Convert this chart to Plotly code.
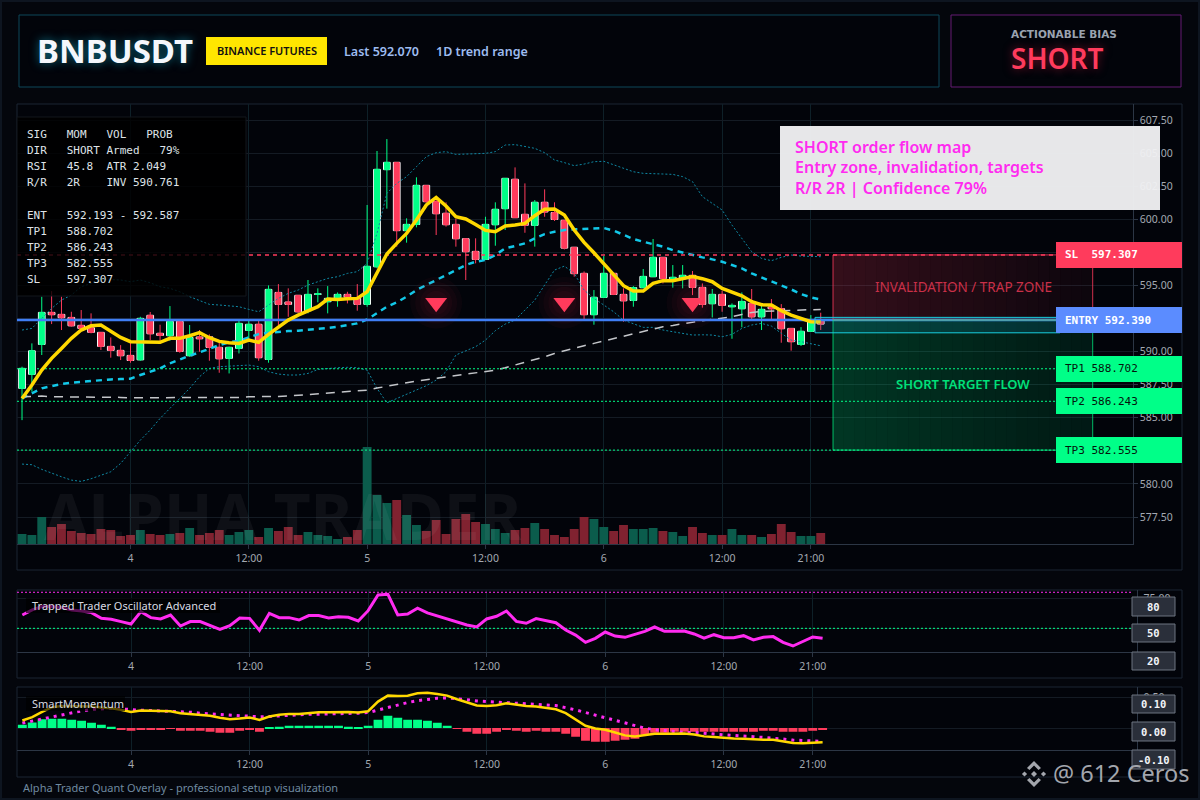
import plotly.graph_objects as go

# hourly candles, index 0 = day 3 13:00, last = day 6 22:00
opens = [587.22, 588.28, 590.54, 592.96, 592.81, 592.58, 591.98, 591.80, 591.45, 590.39,
         590.09, 589.71, 589.38, 592.74, 591.38, 591.20, 592.28, 589.69, 591.10, 591.12,
         590.32, 589.49, 590.24, 591.60, 592.06, 589.41, 594.47, 593.74, 594.25, 593.09,
         594.32, 593.77, 593.97, 594.32, 594.02, 593.57, 596.41, 603.75, 604.30, 599.14,
         599.61, 602.56, 601.33, 600.45, 599.61, 598.53, 597.57, 596.97, 599.59, 600.80,
         603.02, 600.37, 599.54, 601.28, 600.50, 599.92, 597.88, 595.91, 592.79, 594.10,
         595.91, 594.32, 593.87, 594.83, 595.66, 597.12, 595.51, 595.51, 595.76, 594.85,
         593.62, 594.32, 593.39, 593.24, 593.64, 592.63, 593.37, 593.24, 591.75, 590.54,
         591.53, 592.36]
highs = [588.86, 590.62, 594.15, 594.57, 594.15, 593.01, 593.14, 592.89, 591.45, 591.07,
         590.49, 590.82, 592.63, 592.99, 592.03, 593.44, 592.38, 592.01, 591.63, 591.30,
         590.67, 590.37, 592.38, 592.38, 592.38, 595.00, 595.10, 594.78, 594.27, 595.41,
         594.78, 594.95, 594.47, 594.52, 595.10, 601.08, 605.16, 606.06, 604.30, 600.07,
         603.17, 602.56, 601.71, 601.28, 600.04, 598.53, 598.56, 600.19, 601.28, 603.09,
         603.92, 602.71, 601.45, 602.26, 601.28, 599.92, 597.88, 596.06, 594.65, 597.22,
         595.91, 594.78, 594.95, 596.24, 598.51, 597.12, 596.54, 596.54, 596.09, 595.15,
         594.73, 594.60, 593.64, 594.47, 594.73, 593.52, 593.97, 593.59, 591.75, 591.85,
         592.76, 592.94]
lows = [584.82, 586.97, 589.74, 592.08, 591.63, 591.88, 591.63, 591.38, 590.12, 589.54,
        589.36, 589.16, 589.31, 590.87, 590.75, 590.82, 589.91, 589.61, 589.99, 589.31,
        588.40, 588.35, 589.86, 590.87, 589.31, 589.16, 591.88, 592.63, 592.89, 592.89,
        593.72, 592.89, 593.39, 593.64, 593.09, 593.39, 596.29, 600.80, 597.93, 598.23,
        599.39, 601.25, 598.81, 599.44, 597.93, 595.41, 596.67, 596.92, 598.00, 599.19,
        600.12, 598.98, 597.93, 600.19, 599.87, 597.72, 595.66, 592.46, 592.03, 594.10,
        594.27, 592.26, 593.39, 594.83, 595.66, 595.15, 594.83, 594.78, 594.27, 593.32,
        592.58, 593.01, 590.97, 591.83, 592.46, 591.63, 592.46, 590.67, 590.07, 590.42,
        591.53, 591.63]
closes = [588.73, 590.06, 592.96, 592.79, 592.56, 591.95, 591.75, 591.45, 590.39, 590.09,
          589.69, 589.33, 592.51, 591.35, 591.22, 592.28, 590.01, 591.07, 590.97, 590.32,
          589.46, 590.32, 592.13, 592.06, 589.54, 594.70, 593.57, 593.57, 593.01, 594.32,
          594.37, 594.02, 594.32, 594.12, 593.57, 596.44, 603.77, 604.30, 599.14, 599.61,
          602.56, 601.33, 600.42, 599.59, 598.53, 597.55, 596.97, 599.61, 600.75, 603.09,
          600.12, 599.54, 601.28, 600.55, 599.99, 597.82, 595.89, 592.79, 594.10, 595.91,
          594.32, 593.84, 594.83, 595.68, 597.12, 595.51, 595.61, 595.76, 594.85, 593.57,
          594.32, 593.49, 593.49, 593.79, 592.63, 593.19, 593.24, 591.73, 590.75, 591.53,
          592.38, 592.08]
volumes = [10, 9, 27, 17, 20, 13, 11, 10, 15, 14, 8, 9, 14, 10, 9, 10, 11, 16, 9, 11,
           14, 9, 12, 14, 7, 16, 13, 17, 9, 12, 9, 8, 5, 7, 14, 97, 49, 41, 44, 29,
           19, 13, 24, 10, 25, 30, 22, 20, 15, 11, 14, 16, 21, 15, 9, 7, 15, 27, 25, 17,
           13, 19, 15, 15, 16, 13, 12, 8, 17, 11, 9, 9, 15, 9, 9, 7, 10, 20, 12, 8,
           8, 11]
ema_line = [586.46, 587.47, 588.60, 589.49, 590.24, 591.00, 591.63, 591.95, 592.01, 591.50,
            591.07, 590.75, 590.75, 590.72, 590.70, 591.00, 591.00, 591.20, 591.43, 591.05,
            590.77, 590.67, 590.62, 590.87, 590.70, 591.30, 591.88, 592.38, 592.76, 593.09,
            593.39, 593.97, 593.94, 593.99, 594.02, 594.52, 595.91, 597.37, 598.18, 598.93,
            599.94, 601.08, 601.65, 601.00, 600.19, 600.02, 599.61, 599.16, 599.06, 599.49,
            599.56, 599.69, 600.27, 600.75, 600.77, 600.32, 599.19, 598.25, 597.47, 596.67,
            595.81, 594.98, 594.57, 594.57, 595.15, 595.36, 595.36, 595.53, 595.68, 595.51,
            595.28, 594.78, 594.47, 594.22, 593.77, 593.54, 593.52, 593.09, 592.76, 592.51,
            592.26, 592.23]
bb_mid = [586.46, 586.84, 587.22, 587.39, 587.55, 587.65, 587.72, 587.80, 587.85, 587.90,
          587.92, 587.95, 588.23, 588.48, 588.73, 589.11, 589.41, 589.69, 589.94, 590.24,
          590.49, 590.70, 590.82, 591.07, 591.32, 591.43, 591.50, 591.55, 591.58, 591.63,
          591.70, 591.78, 591.88, 592.01, 592.13, 592.43, 592.89, 593.39, 593.72, 594.15,
          594.65, 595.03, 595.41, 595.78, 596.11, 596.54, 596.79, 596.92, 597.30, 597.80,
          597.98, 598.18, 598.56, 598.88, 599.06, 599.19, 599.24, 599.26, 599.29, 599.34,
          599.14, 598.81, 598.51, 598.30, 598.13, 597.93, 597.67, 597.47, 597.30, 597.12,
          596.97, 596.79, 596.54, 596.29, 595.91, 595.61, 595.36, 595.03, 594.70, 594.35,
          594.10, 593.94]
bb_upper = [591.63, 591.75, 592.51, 593.26, 593.89, 594.27, 594.90, 595.15, 595.48, 595.46,
            595.41, 595.28, 595.41, 595.20, 594.90, 594.78, 594.52, 594.15, 593.84, 593.57,
            593.52, 593.44, 593.39, 593.19, 593.01, 593.52, 594.02, 594.40, 594.65, 595.03,
            595.28, 595.53, 595.66, 595.91, 596.04, 596.67, 598.93, 601.96, 602.71, 603.22,
            603.97, 604.73, 605.03, 605.11, 604.90, 604.93, 604.93, 604.98, 605.11, 605.61,
            605.64, 605.48, 605.36, 605.03, 604.48, 604.28, 604.05, 604.17, 604.35, 604.38,
            604.10, 603.85, 603.59, 603.47, 603.47, 603.42, 603.39, 603.22, 602.84, 601.71,
            601.20, 600.70, 599.56, 598.56, 597.55, 597.04, 596.87, 597.12, 597.30, 597.22,
            597.17, 597.17]
bb_lower = [581.50, 581.45, 581.10, 580.79, 580.54, 580.29, 580.19, 580.39, 580.67, 580.92,
            581.55, 582.43, 583.31, 584.07, 584.95, 585.71, 586.46, 587.22, 588.10, 588.73,
            588.86, 588.91, 588.96, 588.98, 588.86, 588.48, 588.30, 588.23, 588.23, 588.35,
            588.65, 588.73, 588.78, 588.81, 588.78, 588.60, 587.22, 586.13, 586.46, 586.79,
            587.09, 587.42, 587.85, 588.48, 589.74, 590.07, 590.37, 590.87, 591.58, 592.08,
            592.38, 593.14, 593.89, 595.03, 596.16, 596.46, 595.91, 594.65, 594.02, 593.52,
            593.01, 592.38, 592.13, 591.83, 591.83, 591.63, 591.50, 591.38, 591.25, 591.27,
            591.25, 591.12, 591.30, 591.75, 592.01, 592.13, 591.93, 591.38, 590.87, 590.75,
            590.57, 590.44]
anchor_line = [586.59, 586.64, 586.64, 586.59, 586.59, 586.59, 586.54, 586.54, 586.54, 586.54,
               586.54, 586.51, 586.51, 586.51, 586.51, 586.51, 586.51, 586.51, 586.51, 586.54,
               586.54, 586.54, 586.54, 586.59, 586.59, 586.56, 586.61, 586.64, 586.69, 586.74,
               586.79, 586.84, 586.92, 586.97, 587.04, 587.09, 587.24, 587.39, 587.55, 587.65,
               587.77, 587.87, 587.97, 588.10, 588.18, 588.28, 588.35, 588.48, 588.60, 588.78,
               588.98, 589.21, 589.41, 589.61, 589.86, 590.07, 590.27, 590.44, 590.62, 590.80,
               590.97, 591.17, 591.38, 591.55, 591.73, 591.88, 591.98, 592.11, 592.23, 592.33,
               592.43, 592.53, 592.63, 592.81, 592.96, 593.04, 593.06, 593.09, 593.11, 593.14,
               593.16, 593.19]
oscillator = [61.1, 65.3, 68.1, 68.1, 67.2, 65.3, 64.4, 63.1, 58.3, 57.5,
              55.6, 53.6, 63.9, 58.9, 57.8, 61.1, 51.9, 55.6, 55.6, 52.2,
              49.2, 52.2, 58.6, 58.3, 48.3, 62.5, 58.9, 58.9, 56.9, 60.6,
              60.6, 58.6, 59.7, 59.2, 56.1, 64.7, 77.8, 78.3, 61.1, 61.9,
              66.7, 62.8, 60.3, 58.3, 55.6, 52.8, 51.1, 57.8, 60.0, 64.4,
              55.8, 54.2, 58.1, 56.1, 54.7, 48.6, 44.4, 38.3, 41.7, 46.9,
              43.6, 42.5, 45.0, 47.5, 51.1, 47.5, 47.5, 47.8, 45.3, 41.9,
              44.7, 42.2, 42.2, 43.9, 40.3, 42.5, 43.1, 38.3, 35.3, 38.9,
              42.8, 41.7]
momentum_hist = [0.054, 0.091, 0.145, 0.151, 0.151, 0.134, 0.118, 0.086, 0.054, 0.022,
                 -0.027, -0.043, -0.027, -0.027, -0.027, -0.011, -0.043, -0.043, -0.043, -0.059,
                 -0.075, -0.075, -0.043, -0.027, -0.059, 0.005, 0.022, 0.038, 0.038, 0.038,
                 0.038, 0.038, 0.038, 0.022, 0.005, 0.038, 0.134, 0.199, 0.167, 0.134,
                 0.134, 0.118, 0.086, 0.038, -0.011, -0.059, -0.091, -0.091, -0.059, -0.027,
                 -0.043, -0.059, -0.043, -0.059, -0.059, -0.091, -0.140, -0.204, -0.220, -0.220,
                 -0.204, -0.188, -0.172, -0.108, -0.075, -0.075, -0.059, -0.059, -0.059, -0.059,
                 -0.059, -0.059, -0.059, -0.059, -0.059, -0.043, -0.043, -0.059, -0.059, -0.059,
                 -0.043, -0.027]
momentum_fast = [0.124, 0.177, 0.263, 0.339, 0.360, 0.360, 0.355, 0.349, 0.333, 0.323,
                 0.296, 0.263, 0.285, 0.285, 0.274, 0.274, 0.242, 0.231, 0.220, 0.199,
                 0.167, 0.145, 0.156, 0.172, 0.134, 0.188, 0.215, 0.231, 0.231, 0.247,
                 0.258, 0.258, 0.263, 0.263, 0.253, 0.274, 0.430, 0.527, 0.522, 0.527,
                 0.565, 0.575, 0.554, 0.527, 0.468, 0.414, 0.366, 0.360, 0.371, 0.403,
                 0.376, 0.360, 0.349, 0.333, 0.306, 0.242, 0.145, 0.038, -0.005, -0.027,
                 -0.070, -0.118, -0.134, -0.113, -0.091, -0.091, -0.091, -0.086, -0.102, -0.134,
                 -0.145, -0.161, -0.167, -0.172, -0.183, -0.188, -0.188, -0.210, -0.242, -0.247,
                 -0.242, -0.231]
momentum_slow = [0.081, 0.113, 0.145, 0.188, 0.220, 0.253, 0.280, 0.301, 0.317, 0.323,
                 0.312, 0.296, 0.290, 0.285, 0.280, 0.280, 0.269, 0.258, 0.242, 0.231,
                 0.220, 0.210, 0.199, 0.194, 0.183, 0.188, 0.199, 0.210, 0.215, 0.226,
                 0.226, 0.231, 0.231, 0.231, 0.242, 0.253, 0.296, 0.339, 0.376, 0.414,
                 0.446, 0.468, 0.484, 0.489, 0.478, 0.462, 0.441, 0.430, 0.419, 0.414,
                 0.403, 0.392, 0.387, 0.376, 0.366, 0.333, 0.296, 0.253, 0.210, 0.172,
                 0.124, 0.081, 0.038, 0.0, -0.027, -0.043, -0.059, -0.070, -0.070, -0.086,
                 -0.097, -0.108, -0.118, -0.134, -0.140, -0.151, -0.161, -0.177, -0.194, -0.204,
                 -0.210, -0.215]

tick_idx = [11, 23, 35, 47, 59, 71, 80]
tick_txt = ['4', '12:00', '5', '12:00', '6', '12:00', '21:00']
price_ticks = [577.5, 580, 582.5, 585, 587.5, 590, 592.5, 595, 597.5, 600, 602.5, 605, 607.5]

sl_price = 597.307
entry_price = 592.390
entry_zone = [592.587, 591.42]
tp_prices = [588.702, 586.243, 582.555]
signal_idx = [42, 55, 68]
signal_price = [593.69, 593.69, 593.69]

table_lines = ['SIG   MOM   VOL   PROB', 'DIR   SHORT Armed   79%', 'RSI   45.8  ATR 2.049',
               'R/R   2R    INV 590.761', '', 'ENT   592.193 - 592.587', 'TP1   588.702',
               'TP2   586.243', 'TP3   582.555', 'SL    597.307']
info_lines = ['SHORT order flow map', 'Entry zone, invalidation, targets', 'R/R 2R | Confidence 79%']

GREEN = '#00ff88'
RED = '#ff3b5c'
BG = '#04060c'
PANEL = '#02040a'
GRID = '#141b24'
VGRID = '#0e2028'
AXIS = '#2c3645'
TICK = '#a4a9b2'
SANS = 'Noto Sans'
MONO = 'DejaVu Sans Mono'

idx = list(range(len(closes)))
up = [c >= o for o, c in zip(opens, closes)]


def X(px):
    return px / 1200


def Y(py):
    return 1 - py / 800


fig = go.Figure()

# volume sits on the base axis so the price traces draw over it
fig.add_trace(go.Bar(x=idx, y=volumes, yaxis='y4', width=0.9,
                     marker=dict(color=['#0b5c4c' if u else '#802230' for u in up], line_width=0)))

for vals, color, width, dash in [
    (bb_upper, '#0f88a3', 1, '2px,2px'),
    (bb_lower, '#0f88a3', 1, '2px,2px'),
    (bb_mid, '#12c8e8', 2.5, '6px,5px'),
    (anchor_line, '#c4c6ca', 1.5, '9px,7px'),
]:
    fig.add_trace(go.Scatter(x=idx, y=vals, mode='lines', line=dict(color=color, width=width, dash=dash)))

# level lines run up to the price tags
span = [-0.51, 104.9]
fig.add_trace(go.Scatter(x=span, y=[sl_price] * 2, mode='lines', line=dict(color=RED, width=1.5, dash='4px,4px')))
for tp in tp_prices:
    fig.add_trace(go.Scatter(x=span, y=[tp] * 2, mode='lines', line=dict(color=GREEN, width=1, dash='2px,2px')))

# wicks come from the candlestick, bodies get the white outline from a bar on top
fig.add_trace(go.Candlestick(x=idx, open=opens, high=highs, low=lows, close=closes, whiskerwidth=0,
                             increasing=dict(line=dict(color=GREEN, width=1), fillcolor=GREEN),
                             decreasing=dict(line=dict(color=RED, width=1), fillcolor=RED)))
fig.add_trace(go.Bar(x=idx, y=[abs(c - o) for o, c in zip(opens, closes)], base=[min(o, c) for o, c in zip(opens, closes)],
                     width=0.68, marker=dict(color=[GREEN if u else RED for u in up], line=dict(color='#ffffff', width=1))))

fig.add_trace(go.Scatter(x=span, y=[entry_price] * 2, mode='lines', line=dict(color='#3f7ef5', width=2.5)))
fig.add_trace(go.Scatter(x=idx, y=ema_line, mode='lines', line=dict(color='#ffd800', width=3.5)))

# sell markers, the halo is a few stacked faint circles
for halo in [52, 42, 32, 24]:
    fig.add_trace(go.Scatter(x=signal_idx, y=signal_price, mode='markers',
                             marker=dict(symbol='circle', size=halo, color='rgba(255,59,92,0.035)', line_width=0)))
fig.add_trace(go.Scatter(x=signal_idx, y=signal_price, mode='markers',
                         marker=dict(symbol='triangle-down', size=19, color=RED, line_width=0)))

# oscillator panel
x2_span = [-0.54, 112.3]
fig.add_trace(go.Scatter(x=x2_span, y=[80, 80], xaxis='x2', yaxis='y2', mode='lines',
                         line=dict(color='#ff2bf0', width=1, dash='2px,2px')))
fig.add_trace(go.Scatter(x=x2_span, y=[50, 50], xaxis='x2', yaxis='y2', mode='lines',
                         line=dict(color=GREEN, width=1, dash='2px,2px')))
fig.add_trace(go.Scatter(x=idx, y=oscillator, xaxis='x2', yaxis='y2', mode='lines',
                         line=dict(color='#ff2bf0', width=3)))

# momentum panel
fig.add_trace(go.Bar(x=idx, y=momentum_hist, xaxis='x3', yaxis='y3', width=0.9,
                     marker=dict(color=[GREEN if v >= 0 else RED for v in momentum_hist], line_width=0)))
fig.add_trace(go.Scatter(x=idx, y=momentum_slow, xaxis='x3', yaxis='y3', mode='lines',
                         line=dict(color='#ff2bf0', width=3, dash='3px,5px')))
fig.add_trace(go.Scatter(x=idx, y=momentum_fast, xaxis='x3', yaxis='y3', mode='lines',
                         line=dict(color='#ffd800', width=2.5)))

shapes = []
notes = []


def frame(x0, y0, x1, y1, line=None, fill=None, width=1, layer='above'):
    shapes.append(dict(type='rect', xref='paper', yref='paper', x0=X(x0), x1=X(x1), y0=Y(y0), y1=Y(y1),
                       line=dict(color=line, width=width) if line else dict(width=0),
                       fillcolor=fill or 'rgba(0,0,0,0)', layer=layer))


def note(x, y, text, size, color, family=SANS, anchor='left', **kw):
    # annotations carry about 2px of padding on the left
    if anchor == 'left':
        x = x - 2
    notes.append(dict(xref='paper', yref='paper', x=X(x), y=Y(y), text=text, showarrow=False, xanchor=anchor,
                      yanchor='middle', font=dict(size=size, color=color, family=family, **kw.pop('font', {})), **kw))


def poly(points, fill):
    path = 'M ' + ' L '.join(f'{X(a):.5f} {Y(b):.5f}' for a, b in points) + ' Z'
    shapes.append(dict(type='path', xref='paper', yref='paper', path=path, fillcolor=fill, line_width=0, layer='above'))


# panels behind the plots
frame(1, 1, 1199, 799, line='#0e1520', width=2, layer='below')
frame(17, 104, 1182, 570, line='#1a2433', fill=PANEL, layer='below')
frame(17, 590, 1182, 678, line='#1a2433', fill=PANEL, layer='below')
frame(17, 687, 1182, 777, line='#1a2433', fill=PANEL, layer='below')
frame(19, 15, 939, 87, line='#0d4658', fill=PANEL, layer='below')
frame(951, 15, 1181, 87, line='#651a72', fill=PANEL, layer='below')

# gradient zones, cut in slices that fade to the right
zone_left, zone_right = 833, 1092.7
slices = 24
for k in range(slices):
    t = k / slices
    a = zone_left + (zone_right - zone_left) * t
    b = zone_left + (zone_right - zone_left) * (t + 1 / slices)
    shapes.append(dict(type='rect', xref='paper', yref='y', x0=X(a), x1=X(b), y0=entry_price, y1=sl_price,
                       line_width=0, fillcolor=f'rgba(255,59,92,{0.20 - 0.16 * t:.3f})', layer='above'))
    shapes.append(dict(type='rect', xref='paper', yref='y', x0=X(a), x1=X(b), y0=tp_prices[2], y1=entry_price,
                       line_width=0, fillcolor=f'rgba(0,255,136,{0.20 - 0.12 * t:.3f})', layer='above'))
shapes.append(dict(type='rect', xref='paper', yref='y', x0=X(zone_left), x1=X(zone_right), y0=entry_price, y1=sl_price,
                   line=dict(color='rgba(255,59,92,0.8)', width=1), layer='above'))
shapes.append(dict(type='rect', xref='paper', yref='y', x0=X(zone_left), x1=X(zone_right), y0=tp_prices[2], y1=entry_price,
                   line=dict(color='rgba(0,255,136,0.7)', width=1), layer='above'))
shapes.append(dict(type='rect', xref='paper', yref='y', x0=X(815), x1=X(1060), y0=entry_zone[1], y1=entry_zone[0],
                   line=dict(color='#19cfe0', width=1), fillcolor='rgba(20,170,220,0.15)', layer='above'))
note(963, 287, 'INVALIDATION / TRAP ZONE', 13.5, '#c93048', anchor='center')
note(963, 384, 'SHORT TARGET FLOW', 13, '#00e07a', anchor='center', font=dict(weight=600))

# signal table and info box
frame(17, 117, 246, 296, line='#12161d', fill='rgba(0,0,0,0.82)')
for k, line in enumerate(table_lines):
    if line:
        note(27, 134 + k * 16.2, line.replace(' ', '\u00a0'), 11, '#dfe3e8', family=MONO)
frame(780, 126, 1160, 210, fill='rgba(240,240,243,0.96)')
for k, line in enumerate(info_lines):
    note(795, 147 + k * 20.5, line, 16, '#ff2bf0', font=dict(weight=600))

# price tags
for y0, y1, fill, label, color, weight in [
    (242, 268, RED, f'SL  {sl_price:.3f}', '#ffffff', 'bold'),
    (307, 333, '#5b8cff', f'ENTRY {entry_price:.3f}', '#ffffff', 'bold'),
    (356, 382, GREEN, f'TP1 {tp_prices[0]:.3f}', '#04140c', 'normal'),
    (388, 414, GREEN, f'TP2 {tp_prices[1]:.3f}', '#04140c', 'normal'),
    (437, 463, GREEN, f'TP3 {tp_prices[2]:.3f}', '#04140c', 'normal'),
]:
    frame(1056, y0, 1182, y1, fill=fill)
    note(1065, (y0 + y1) / 2, label.replace(' ', '\u00a0'), 11, color, family=MONO, font=dict(weight=weight))

# small value boxes beside the two lower panels
for y0, y1, label in [(597, 616, '80'), (624, 642, '50'), (652, 670, '20'),
                      (695, 713, '0.10'), (722, 741, '0.00'), (750, 769, '-0.10')]:
    frame(1132, y0, 1175, y1, line='#6d7480', fill='#2a2f3a')
    note(1153.5, (y0 + y1) / 2, label, 10.5, '#f2f4f8', family=MONO, anchor='center', font=dict(weight='bold'))

# header
note(37, 51, 'BNBUSDT', 33, '#f4f7fc', font=dict(weight='bold', shadow='0 0 10px #0b6a80'))
frame(206, 37, 327, 65, fill='#ffe600')
note(266.5, 51, 'BINANCE FUTURES', 11, '#111111', anchor='center', font=dict(weight=600))
note(344, 51.5, 'Last 592.070', 12.5, '#9dbcf0', font=dict(weight=600))
note(435.5, 51.5, '1D trend range', 12.5, '#9dbcf0', font=dict(weight=600))
note(1011, 33.5, 'ACTIONABLE BIAS', 10.5, '#9aa3b0', family='DejaVu Sans', font=dict(weight='bold'))
note(1011, 58, 'SHORT', 28, RED, font=dict(weight=600, shadow='0 0 10px #7a1028'))

# panel captions, footer and the mark in the corner
frame(26, 598, 220, 613, fill='rgba(0,0,0,0.65)')
note(32, 605, 'Trapped Trader Oscillator Advanced', 11, '#d9dbe2')
frame(26, 696, 125, 711, fill='rgba(0,0,0,0.65)')
note(32, 703, 'SmartMomentum', 11, '#d9dbe2')
note(23, 787, 'Alpha Trader Quant Overlay - professional setup visualization', 11, '#6f8aa0')
note(44, 515, 'ALPHA TRADER', 64, 'rgba(255,255,255,0.05)', font=dict(weight='bold'))
note(1053, 773, '@ 612 Ceros', 23.5, '#a3a6ad')
for cx, cy, r in [(1034, 774, 3), (1024.5, 774, 2.6), (1043.5, 774, 2.6)]:
    poly([(cx - r, cy), (cx, cy - r), (cx + r, cy), (cx, cy + r)], '#a3a6ad')
poly([(1034, 761), (1041, 768), (1038.5, 770), (1034, 765.5), (1029.5, 770), (1027, 768)], '#a3a6ad')
poly([(1034, 787), (1041, 780), (1038.5, 778), (1034, 782.5), (1029.5, 778), (1027, 780)], '#a3a6ad')

x_common = dict(tickmode='array', tickvals=tick_idx, ticktext=tick_txt, showgrid=True, gridcolor=VGRID, gridwidth=1,
                zeroline=False, showline=True, linecolor=AXIS, ticks='outside', ticklen=4, tickcolor=AXIS,
                tickfont=dict(family=SANS, size=10.5, color=TICK), rangeslider=dict(visible=False))
y_common = dict(side='right', showgrid=True, gridcolor=GRID, gridwidth=1, zeroline=False, showline=True, linecolor=AXIS,
                ticks='outside', ticklen=4, tickcolor=AXIS, tickformat='.2f',
                tickfont=dict(family=SANS, size=10.5, color=TICK))
main_dom = [X(17), X(1132.7)]
sub_dom = [X(17), X(1136.5)]

fig.update_layout(
    width=1200, height=800, margin=dict(l=0, r=0, t=0, b=0), autosize=False,
    paper_bgcolor=BG, plot_bgcolor=PANEL, showlegend=False, barmode='overlay', hovermode=False,
    xaxis=dict(domain=main_dom, range=[-0.51, 112.64], anchor='y4', **x_common),
    xaxis2=dict(domain=sub_dom, range=[-0.54, 112.77], anchor='y2', **x_common),
    xaxis3=dict(domain=sub_dom, range=[-0.54, 112.77], anchor='y3', **x_common),
    yaxis4=dict(domain=[Y(544), Y(104)], range=[0, 440], visible=False),
    yaxis=dict(overlaying='y4', anchor='x', range=[575.46, 608.71], tickmode='array', tickvals=price_ticks, **y_common),
    # the 50 and 0 levels only keep their grid line, their labels would sit under the value boxes
    yaxis2=dict(domain=[Y(652), Y(590)], range=[30.3, 81.9], tickmode='array', tickvals=[75, 50],
                ticktext=['75.00', ''], anchor='x2', **y_common),
    yaxis3=dict(domain=[Y(750), Y(687)], range=[-0.355, 0.667], tickmode='array', tickvals=[0.5, 0],
                ticktext=['0.50', ''], anchor='x3', **y_common),
    shapes=shapes, annotations=notes,
)

fig.write_html("out.html", config={'displayModeBar': False},
               post_script=f"document.body.style.margin='0';document.body.style.background='{BG}';")
